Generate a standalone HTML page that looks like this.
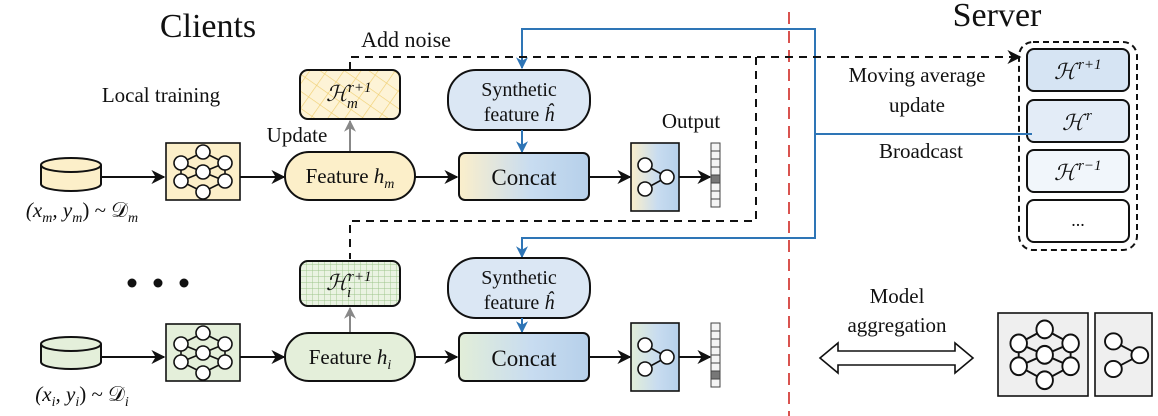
<!DOCTYPE html>
<html><head><meta charset="utf-8"><style>
html,body{margin:0;padding:0;background:#fff}
svg{display:block}
text{font-family:"Liberation Serif","DejaVu Serif",serif;fill:#111}
.it{font-style:italic}
</style></head><body>
<svg width="1158" height="416" viewBox="0 0 1158 416" xmlns="http://www.w3.org/2000/svg">
<defs>
<marker id="ah" viewBox="0 0 10 10" refX="9" refY="5" markerWidth="7" markerHeight="7" orient="auto-start-reverse"><path d="M0,0 L10,5 L0,10 L3,5 z" fill="#111"/></marker>
<marker id="ahb" viewBox="0 0 10 10" refX="9" refY="5" markerWidth="6" markerHeight="6" orient="auto"><path d="M0,0 L10,5 L0,10 L3,5 z" fill="#2e75b6"/></marker>
<marker id="ahg" viewBox="0 0 10 10" refX="9" refY="5" markerWidth="6" markerHeight="6" orient="auto"><path d="M0,0 L10,5 L0,10 L3,5 z" fill="#888"/></marker>
<linearGradient id="gy" x1="0" x2="1"><stop offset="0" stop-color="#fbefcb"/><stop offset="0.55" stop-color="#c8dcf0"/><stop offset="1" stop-color="#b6d0ea"/></linearGradient>
<linearGradient id="gg" x1="0" x2="1"><stop offset="0" stop-color="#e2eed8"/><stop offset="0.55" stop-color="#c8dcf0"/><stop offset="1" stop-color="#b6d0ea"/></linearGradient>
<pattern id="py" width="14" height="14" patternUnits="userSpaceOnUse" patternTransform="rotate(35)"><rect width="14" height="14" fill="#fdf3d6"/><path d="M0,0 H14 M0,0 V14" stroke="#f0cf73" stroke-width="1.3"/></pattern>
<pattern id="pg" width="6" height="6" patternUnits="userSpaceOnUse"><rect width="6" height="6" fill="#eaf3e2"/><path d="M0,0 H6 M0,0 V6" stroke="#9cc48a" stroke-width="0.9"/></pattern>
<g id="nn">
<g stroke="#111" stroke-width="1.6" fill="none">
<path d="M15,20 L37,9 L59,20 M15,20 L37,29 L59,20 M15,38 L37,29 L59,38 M15,38 L37,49 L59,38 M15,20 L15,38 M59,20 L59,38"/>
</g>
<g fill="#fff" stroke="#111" stroke-width="1.6">
<circle cx="37" cy="9" r="7"/><circle cx="15" cy="20" r="7"/><circle cx="59" cy="20" r="7"/><circle cx="37" cy="29" r="7"/><circle cx="15" cy="38" r="7"/><circle cx="59" cy="38" r="7"/><circle cx="37" cy="49" r="7"/>
</g></g>
<g id="hd">
<path d="M12,16 L34,28 L12,40" stroke="#111" stroke-width="1.6" fill="none"/>
<g fill="#fff" stroke="#111" stroke-width="1.6"><circle cx="12" cy="16" r="7"/><circle cx="12" cy="40" r="7"/><circle cx="34" cy="28" r="7"/></g>
</g>
</defs>

<text x="208" y="37" font-size="34" text-anchor="middle">Clients</text>
<text x="997" y="26" font-size="34" text-anchor="middle">Server</text>

<line x1="789" y1="12" x2="789" y2="416" stroke="#d9534f" stroke-width="2" stroke-dasharray="12,7"/>

<path d="M1032,134 H815 V29 H522 V68" stroke="#2e75b6" stroke-width="2" fill="none" marker-end="url(#ahb)"/>
<path d="M815,134 V238 H522 V257" stroke="#2e75b6" stroke-width="2" fill="none" marker-end="url(#ahb)"/>

<path d="M350,70 V57 H1020" stroke="#111" stroke-width="2" fill="none" stroke-dasharray="8,6" marker-end="url(#ah)"/>
<path d="M756,57 V221 H350 V259" stroke="#111" stroke-width="2" fill="none" stroke-dasharray="8,6"/>
<text x="406" y="47" font-size="22" text-anchor="middle">Add noise</text>

<text x="161" y="102" font-size="21" text-anchor="middle">Local training</text>
<rect x="300" y="70" width="100" height="49" rx="8" fill="url(#py)" stroke="#111" stroke-width="2"/>
<text x="326" y="101" font-size="22" class="it">ℋ</text>
<text x="348" y="92" font-size="15" class="it">r+1</text>
<text x="347" y="108" font-size="15" class="it">m</text>
<text x="297" y="142" font-size="21" text-anchor="middle">Update</text>
<line x1="350" y1="152" x2="350" y2="121" stroke="#888" stroke-width="2" marker-end="url(#ahg)"/>

<path d="M41,165 V184 A30,7 0 0 0 101,184 V165" fill="#fcefc9" stroke="#111" stroke-width="2"/>
<ellipse cx="71" cy="165" rx="30" ry="7" fill="#fcefc9" stroke="#111" stroke-width="2"/>
<line x1="101" y1="177" x2="164" y2="177" stroke="#111" stroke-width="2" marker-end="url(#ah)"/>
<text x="82" y="217" font-size="21" class="it" text-anchor="middle">(x<tspan font-size="14" dy="5">m</tspan><tspan dy="-5">, y</tspan><tspan font-size="14" dy="5">m</tspan><tspan dy="-5" font-style="normal">) ~ 𝒟</tspan><tspan font-size="14" dy="5">m</tspan></text>

<rect x="166" y="143" width="74" height="57" fill="#fcefc9" stroke="#111" stroke-width="1.6"/>
<use href="#nn" x="166" y="143"/>
<line x1="240" y1="177" x2="284" y2="177" stroke="#111" stroke-width="2" marker-end="url(#ah)"/>

<rect x="285" y="152" width="130" height="48" rx="24" fill="#fcefc9" stroke="#111" stroke-width="2"/>
<text x="350" y="183" font-size="21" text-anchor="middle">Feature <tspan class="it">h</tspan><tspan class="it" font-size="14" dy="5">m</tspan></text>
<line x1="415" y1="177" x2="457" y2="177" stroke="#111" stroke-width="2" marker-end="url(#ah)"/>

<rect x="448" y="70" width="142" height="60" rx="28" fill="#dbe7f4" stroke="#111" stroke-width="2"/>
<text x="519" y="96" font-size="20" text-anchor="middle">Synthetic</text>
<text x="519" y="121" font-size="20" text-anchor="middle">feature <tspan class="it">ĥ</tspan></text>
<line x1="522" y1="130" x2="522" y2="152" stroke="#2e75b6" stroke-width="2" marker-end="url(#ahb)"/>

<rect x="459" y="153" width="130" height="47" rx="6" fill="url(#gy)" stroke="#111" stroke-width="2"/>
<text x="524" y="185" font-size="23" text-anchor="middle">Concat</text>
<line x1="589" y1="177" x2="630" y2="177" stroke="#111" stroke-width="2" marker-end="url(#ah)"/>

<text x="691" y="128" font-size="21" text-anchor="middle">Output</text>
<rect x="631" y="143" width="48" height="68" fill="url(#gy)" stroke="#111" stroke-width="1.6"/>
<use href="#hd" x="633" y="149"/>
<line x1="679" y1="177" x2="710" y2="177" stroke="#111" stroke-width="2" marker-end="url(#ah)"/>
<g stroke="#444" stroke-width="1" fill="#f4f4f4">
<rect x="711" y="143" width="9" height="8"/><rect x="711" y="151" width="9" height="8"/><rect x="711" y="159" width="9" height="8"/><rect x="711" y="167" width="9" height="8"/><rect x="711" y="175" width="9" height="8" fill="#777"/><rect x="711" y="183" width="9" height="8"/><rect x="711" y="191" width="9" height="8"/><rect x="711" y="199" width="9" height="8"/>
</g>

<g fill="#111"><circle cx="132" cy="283" r="4.5"/><circle cx="158" cy="283" r="4.5"/><circle cx="184" cy="283" r="4.5"/></g>
<rect x="300" y="261" width="100" height="45" rx="8" fill="url(#pg)" stroke="#111" stroke-width="2"/>
<text x="326" y="290" font-size="22" class="it">ℋ</text>
<text x="348" y="281" font-size="15" class="it">r+1</text>
<text x="347" y="297" font-size="15" class="it">i</text>
<line x1="350" y1="333" x2="350" y2="308" stroke="#888" stroke-width="2" marker-end="url(#ahg)"/>

<path d="M41,344 V362 A30,7 0 0 0 101,362 V344" fill="#e4efda" stroke="#111" stroke-width="2"/>
<ellipse cx="71" cy="344" rx="30" ry="7" fill="#e4efda" stroke="#111" stroke-width="2"/>
<line x1="101" y1="357" x2="164" y2="357" stroke="#111" stroke-width="2" marker-end="url(#ah)"/>
<text x="82" y="401" font-size="21" class="it" text-anchor="middle">(x<tspan font-size="14" dy="5">i</tspan><tspan dy="-5">, y</tspan><tspan font-size="14" dy="5">i</tspan><tspan dy="-5" font-style="normal">) ~ 𝒟</tspan><tspan font-size="14" dy="5">i</tspan></text>

<rect x="166" y="324" width="74" height="57" fill="#e4efda" stroke="#111" stroke-width="1.6"/>
<use href="#nn" x="166" y="324"/>
<line x1="240" y1="357" x2="284" y2="357" stroke="#111" stroke-width="2" marker-end="url(#ah)"/>

<rect x="285" y="333" width="130" height="48" rx="24" fill="#e4efda" stroke="#111" stroke-width="2"/>
<text x="350" y="364" font-size="21" text-anchor="middle">Feature <tspan class="it">h</tspan><tspan class="it" font-size="14" dy="5">i</tspan></text>
<line x1="415" y1="357" x2="457" y2="357" stroke="#111" stroke-width="2" marker-end="url(#ah)"/>

<rect x="448" y="258" width="142" height="60" rx="28" fill="#dbe7f4" stroke="#111" stroke-width="2"/>
<text x="519" y="284" font-size="20" text-anchor="middle">Synthetic</text>
<text x="519" y="309" font-size="20" text-anchor="middle">feature <tspan class="it">ĥ</tspan></text>
<line x1="522" y1="318" x2="522" y2="332" stroke="#2e75b6" stroke-width="2" marker-end="url(#ahb)"/>

<rect x="459" y="333" width="130" height="48" rx="6" fill="url(#gg)" stroke="#111" stroke-width="2"/>
<text x="524" y="366" font-size="23" text-anchor="middle">Concat</text>
<line x1="589" y1="357" x2="630" y2="357" stroke="#111" stroke-width="2" marker-end="url(#ah)"/>

<rect x="631" y="323" width="48" height="68" fill="url(#gg)" stroke="#111" stroke-width="1.6"/>
<use href="#hd" x="633" y="329"/>
<line x1="679" y1="357" x2="710" y2="357" stroke="#111" stroke-width="2" marker-end="url(#ah)"/>
<g stroke="#444" stroke-width="1" fill="#f4f4f4">
<rect x="711" y="323" width="9" height="8"/><rect x="711" y="331" width="9" height="8"/><rect x="711" y="339" width="9" height="8"/><rect x="711" y="347" width="9" height="8"/><rect x="711" y="355" width="9" height="8"/><rect x="711" y="363" width="9" height="8"/><rect x="711" y="371" width="9" height="8" fill="#777"/><rect x="711" y="379" width="9" height="8"/>
</g>

<text x="917" y="82" font-size="21" text-anchor="middle">Moving average</text>
<text x="917" y="112" font-size="21" text-anchor="middle">update</text>
<text x="921" y="158" font-size="21" text-anchor="middle">Broadcast</text>
<rect x="1019" y="42" width="118" height="208" rx="14" fill="none" stroke="#111" stroke-width="2" stroke-dasharray="6,4"/>
<rect x="1027" y="49" width="102" height="42" rx="7" fill="#d6e4f3" stroke="#111" stroke-width="2"/>
<rect x="1027" y="100" width="102" height="42" rx="7" fill="#e3ecf7" stroke="#111" stroke-width="2"/>
<rect x="1027" y="150" width="102" height="42" rx="7" fill="#f1f6fb" stroke="#111" stroke-width="2"/>
<rect x="1027" y="200" width="102" height="42" rx="7" fill="#fff" stroke="#111" stroke-width="2"/>
<line x1="1000" y1="134" x2="1032" y2="134" stroke="#2e75b6" stroke-width="2"/>
<text x="1054" y="79" font-size="22" class="it">ℋ</text><text x="1078" y="69" font-size="15" class="it">r+1</text>
<text x="1062" y="130" font-size="22" class="it">ℋ</text><text x="1086" y="120" font-size="15" class="it">r</text>
<text x="1054" y="180" font-size="22" class="it">ℋ</text><text x="1078" y="170" font-size="15" class="it">r−1</text>
<text x="1078" y="226" font-size="18" text-anchor="middle">...</text>

<text x="897" y="303" font-size="21" text-anchor="middle">Model</text>
<text x="897" y="332" font-size="21" text-anchor="middle">aggregation</text>
<path d="M820,358 L838,343 V351 H955 V343 L973,358 L955,373 V365 H838 V373 Z" fill="#fff" stroke="#111" stroke-width="1.6"/>
<rect x="998" y="313" width="90" height="83" fill="#efefef" stroke="#111" stroke-width="1.6"/>
<use href="#nn" transform="translate(1001,318) scale(1.18,1.27)"/>
<rect x="1095" y="313" width="57" height="83" fill="#efefef" stroke="#111" stroke-width="1.6"/>
<use href="#hd" transform="translate(1099,323) scale(1.2,1.15)"/>
</svg>
</body></html>
